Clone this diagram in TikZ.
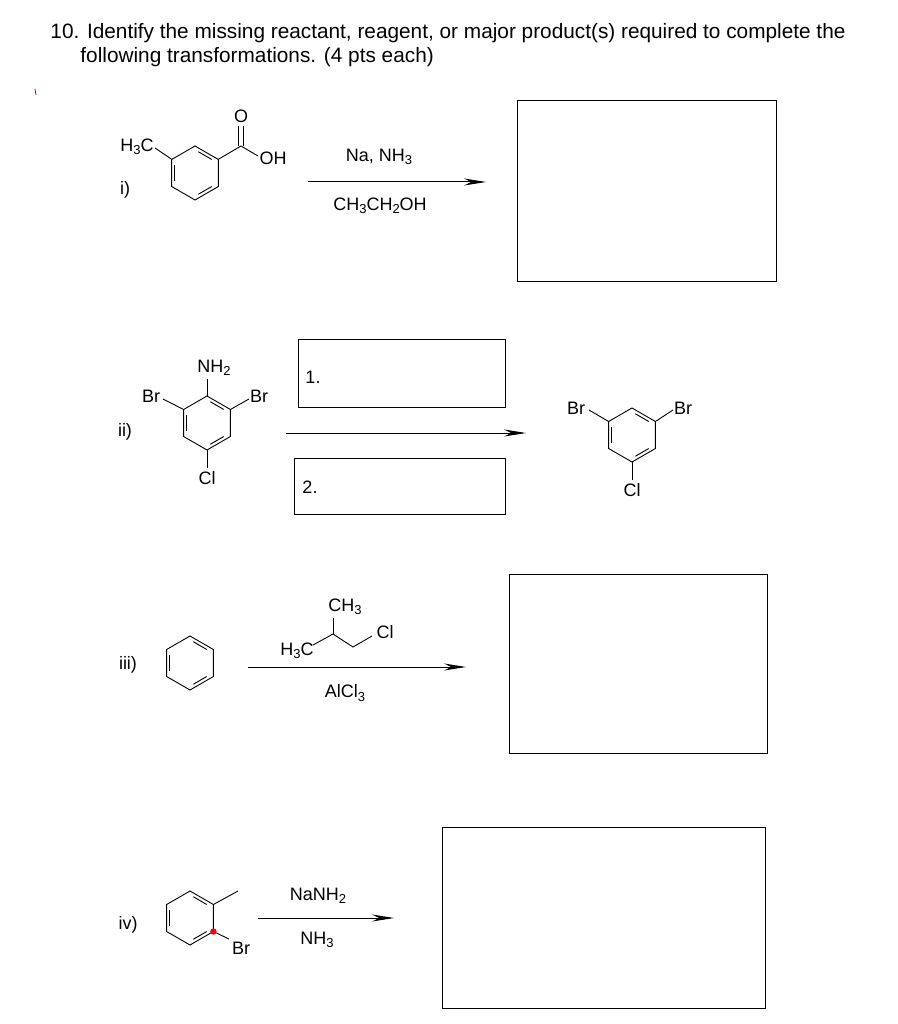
\documentclass[tikz,border=0pt]{standalone}
\usepackage{fontspec}
\setmainfont{Liberation Sans}
\usetikzlibrary{arrows.meta,calc}
\newcommand\sbs[1]{\raisebox{-0.35ex}{\fontsize{13}{13}\selectfont #1}}
\begin{document}
\begin{tikzpicture}[x=1pt,y=-1pt,line width=0.9pt,
  lab/.style={font=\fontsize{18}{20}\selectfont,inner sep=0pt},
  bigbox/.style={draw,line width=1pt},
  rxn/.style={-{Stealth[length=22pt,width=7pt]},line width=1pt},
  benz/.pic={\draw (90:27)--(30:27)--(-30:27)--(-90:27)--(-150:27)--(150:27)--cycle;
    \foreach \a in {90,-30,-150}{\draw (\a-9:21.5)--(\a-51:21.5);}}]
\useasboundingbox (0,0) rectangle (897,1024);
\node[anchor=base west,inner sep=0pt,font=\fontsize{20.8}{24}\selectfont] (t1) at (50,39) {10. Identify the missing reactant, reagent, or major product(s) required to complete the};
\node[anchor=base west,inner sep=0pt,font=\fontsize{20.8}{24}\selectfont] (t2) at (80,63) {following transformations. (4 pts each)};
\draw[red!70!black,line width=0.8pt] (35,89)--(36,95);
% i)
\node[lab] (li) at (125,190) {i)};
\pic at (195,173) {benz};
\node[lab] (me1) at (137,147) {H\sbs{3}C};
\draw (172,159.5)--(155,148);
\coordinate (c1) at (241,146);
\draw (218,159.5)--(c1);
\node[lab] (o1) at (241,116) {O};
\draw ($(c1)+(-2.5,0)$)--(238.5,126); \draw ($(c1)+(2.5,0)$)--(243.5,126);
\node[lab] (oh1) at (273,158) {OH};
\draw (c1)--(258,156);
\draw[rxn] (308,182)--(486,182);
\node[lab] (r1a) at (379,157) {Na, NH\sbs{3}};
\node[lab] (r1b) at (380,206) {CH\sbs{3}CH\sbs{2}OH};
\node[bigbox,minimum width=259pt,minimum height=180pt] (b1) at (646.5,191) {};
% ii)
\node[lab] (lii) at (125,432) {ii)};
\pic at (207,423) {benz};
\node[lab] (nh2) at (214,368) {NH\sbs{2}};
\draw (207,396)--(207,379);
\node[lab] (br1) at (151,396) {Br};
\draw (183.6,409.5)--(163,399);
\node[lab] (br2) at (259,396) {Br};
\draw (230.4,409.5)--(249,399);
\node[lab] (cl1) at (207,478) {Cl};
\draw (207,450)--(207,468);
\node[draw,line width=1pt,minimum width=207pt,minimum height=68pt] (s1) at (401.5,373) {};
\node[lab] at (313,377) {1.};
\node[draw,line width=1pt,minimum width=211pt,minimum height=56pt] (s2) at (399.5,486) {};
\node[lab] at (310,487) {2.};
\draw[rxn] (286,433)--(526,433);
\pic at (632,435) {benz};
\node[lab] (br3) at (576,408) {Br};
\draw (608.6,421.5)--(589,410);
\node[lab] (br4) at (683,408) {Br};
\draw (655.4,421.5)--(673,410);
\node[lab] (cl2) at (632,490) {Cl};
\draw (632,462)--(632,480);
% iii)
\node[lab] (liii) at (128,665) {iii)};
\pic at (190,663) {benz};
\node[lab] (h3c3) at (297,651) {H\sbs{3}C};
\coordinate (ch) at (333,634);
\draw (313,645)--(ch)--(353,647)--(372,636);
\node[lab] (ch3) at (345,607) {CH\sbs{3}};
\draw (ch)--(333,618);
\node[lab] (cl3) at (385,632) {Cl};
\draw[rxn] (248,667)--(466,667);
\node[lab] (alcl) at (345,693) {AlCl\sbs{3}};
\node[bigbox,minimum width=258pt,minimum height=179pt] (b3) at (638,663.5) {};
% iv)
\node[lab] (liv) at (128,925) {iv)};
\pic at (190,918) {benz};
\draw (213.4,904.5)--(238,891);
\draw (213.4,931.5)--(229,939);
\node[lab] (br5) at (241,948) {Br};
\fill[red] (213.4,931.5) circle (3.2pt);
\draw[rxn] (258,918)--(394,918);
\node[lab] (r4a) at (318,896) {NaNH\sbs{2}};
\node[lab] (r4b) at (317,940) {NH\sbs{3}};
\node[bigbox,minimum width=323pt,minimum height=181pt] (b4) at (603.5,917.5) {};
\end{tikzpicture}
\end{document}
